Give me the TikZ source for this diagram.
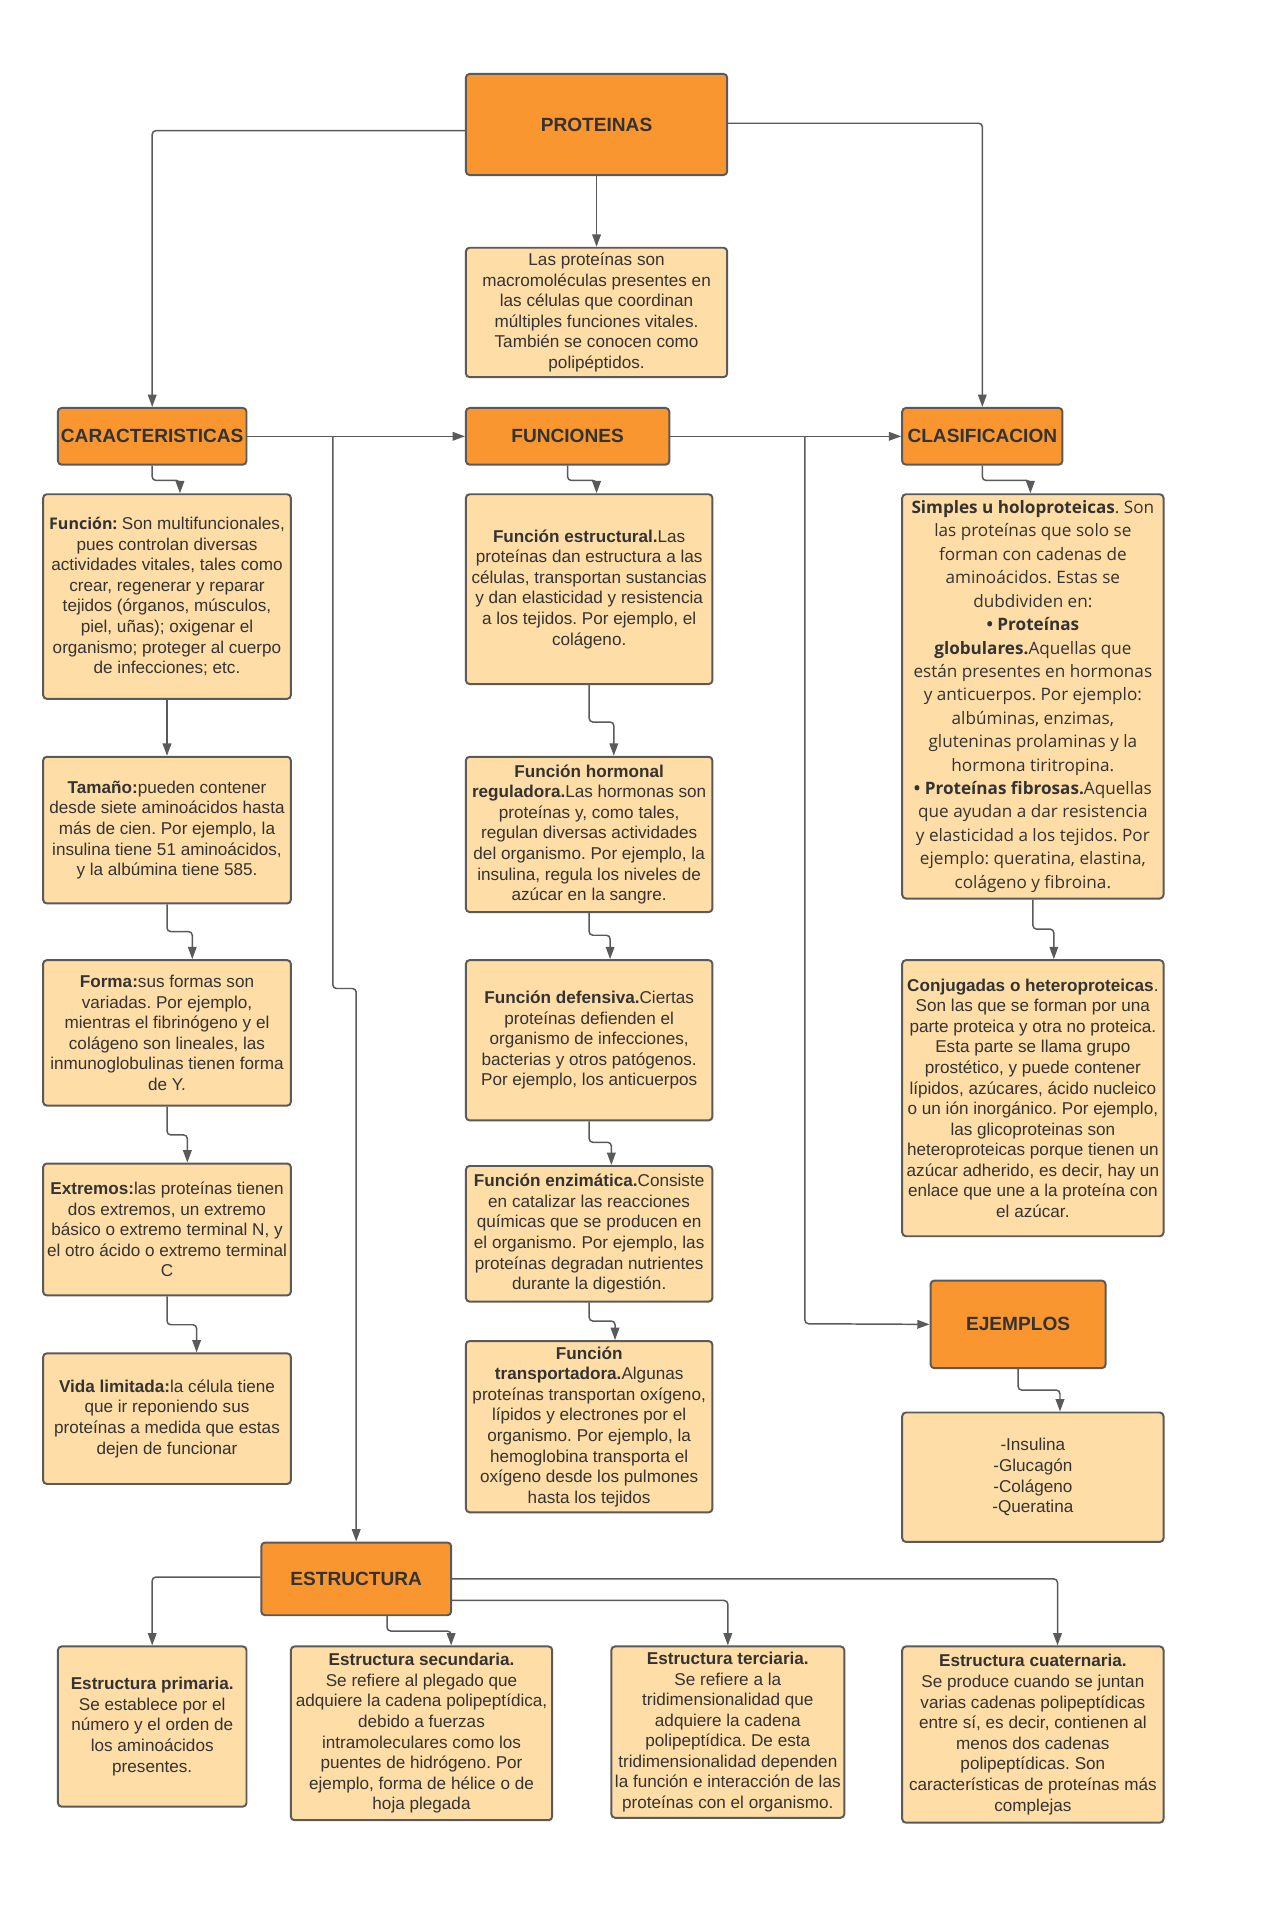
\documentclass[tikz,border=0pt]{standalone}
\usepackage{fontspec}
\setmainfont{Liberation Sans}
\newfontfamily\opensans{Open Sans}
\usetikzlibrary{positioning,arrows.meta}
\definecolor{headorange}{HTML}{F9962F}
\definecolor{boxpeach}{HTML}{FFDDA6}
\definecolor{edgegray}{HTML}{5A5A5A}
\definecolor{textdark}{HTML}{333333}
\tikzset{
  head box/.style={
    fill=headorange,
    draw=edgegray,
    line width=1.6pt,
    rounded corners=3pt,
    minimum width={#1},
    inner sep=1pt,
    text=textdark,
    font=\bfseries\fontsize{15.5}{18}\selectfont,
  },
  info box/.style={
    fill=boxpeach,
    draw=edgegray,
    line width=1.6pt,
    rounded corners=3pt,
    minimum width={#1},
    inner sep=2pt,
    align=center,
    text=textdark,
    font=\fontsize{13.9}{16.7}\selectfont,
  },
  link/.style={
    draw=edgegray,
    line width=1.2pt,
    rounded corners=3pt,
    -{Triangle[length=10pt,width=7pt]},
  }
}

\begin{document}
\frenchspacing
\begin{tikzpicture}[x=1pt,y=-1pt]
        \fill[white] (0,0) rectangle (1038.5,1567.5);
        \useasboundingbox (0,0) rectangle (1038.5,1567.5);

        % top of the map
        \node [head box=212pt, minimum height=82pt] (prot) at (484,101) {PROTEINAS};
        \node [info box=212pt, minimum height=105pt] (desc) at (484,253.5)
          {Las proteínas son\\macromoléculas presentes en\\las células que coordinan\\múltiples funciones vitales.\\También se conocen como\\polipéptidos.};

        \node [head box=153pt, minimum height=46pt] (car) at (123.5,354) {CARACTERISTICAS};
        \node [head box=165pt, minimum height=46pt] (fun) at (460.5,354) {FUNCIONES};
        \node [head box=130pt, minimum height=46pt] (clas) at (797,354) {CLASIFICACION};

        % caracteristicas
        \node [info box=201pt, minimum height=166pt] (fn) at (135.5,484)
          {{\opensans\bfseries\fontsize{13}{16.7}\selectfont Función:} Son multifuncionales,\\pues controlan diversas\\actividades vitales, tales como\\crear, regenerar y reparar\\tejidos (órganos, músculos,\\piel, uñas); oxigenar el\\organismo; proteger al cuerpo\\de infecciones; etc.};
        \node [info box=201pt, minimum height=119pt, below=45.4pt of fn] (tam)
          {\textbf{Tamaño:}pueden contener\\desde siete aminoácidos hasta\\más de cien. Por ejemplo, la\\insulina tiene 51 aminoácidos,\\y la albúmina tiene 585.};
        \node [info box=201pt, minimum height=118pt, below=44.4pt of tam] (forma)
          {\textbf{Forma:}sus formas son\\variadas. Por ejemplo,\\mientras el fibrinógeno y el\\colágeno son lineales, las\\inmunoglobulinas tienen forma\\de Y.};
        \node [info box=201pt, minimum height=107pt, below=45.4pt of forma] (ext)
          {\textbf{Extremos:}las proteínas tienen\\dos extremos, un extremo\\básico o extremo terminal N, y\\el otro ácido o extremo terminal\\C};
        \node [info box=201pt, minimum height=106pt, below=45.4pt of ext] (vida)
          {\textbf{Vida limitada:}la célula tiene\\que ir reponiendo sus\\proteínas a medida que estas\\dejen de funcionar};

        % funciones
        \node [info box=200pt, minimum height=154pt] (est) at (478,478)
          {\textbf{Función estructural.}Las\\proteínas dan estructura a las\\células, transportan sustancias\\y dan elasticidad y resistencia\\a los tejidos. Por ejemplo, el\\colágeno.};
        \node [info box=200pt, minimum height=126pt, below=57.4pt of est] (hor)
          {\textbf{Función hormonal}\\\textbf{reguladora.}Las hormonas son\\proteínas y, como tales,\\regulan diversas actividades\\del organismo. Por ejemplo, la\\insulina, regula los niveles de\\azúcar en la sangre.};
        \node [info box=200pt, minimum height=130pt, below=37.4pt of hor] (def)
          {\textbf{Función defensiva.}Ciertas\\proteínas defienden el\\organismo de infecciones,\\bacterias y otros patógenos.\\Por ejemplo, los anticuerpos};
        \node [info box=200pt, minimum height=110pt, below=35.4pt of def] (enz)
          {\textbf{Función enzimática.}Consiste\\en catalizar las reacciones\\químicas que se producen en\\el organismo. Por ejemplo, las\\proteínas degradan nutrientes\\durante la digestión.};
        \node [info box=200pt, minimum height=139pt, below=30.4pt of enz] (tra)
          {\textbf{Función}\\\textbf{transportadora.}Algunas\\proteínas transportan oxígeno,\\lípidos y electrones por el\\organismo. Por ejemplo, la\\hemoglobina transporta el\\oxígeno desde los pulmones\\hasta los tejidos};

        % clasificacion
        \node [info box=212pt, minimum height=328pt, font=\opensans\fontsize{13.9}{19}\selectfont] (sim) at (838,565)
          {\textbf{Simples u holoproteicas}. Son\\las proteínas que solo se\\forman con cadenas de\\aminoácidos. Estas se\\dubdividen en:\\\textbf{• Proteínas}\\\textbf{globulares.}Aquellas que\\están presentes en hormonas\\y anticuerpos. Por ejemplo:\\albúminas, enzimas,\\gluteninas prolaminas y la\\hormona tiritropina.\\\textbf{• Proteínas fibrosas.}Aquellas\\que ayudan a dar resistencia\\y elasticidad a los tejidos. Por\\ejemplo: queratina, elastina,\\colágeno y fibroina.};
        \node [info box=212pt, minimum height=224pt, below=48.4pt of sim] (conj)
          {\textbf{Conjugadas o heteroproteicas}.\\Son las que se forman por una\\parte proteica y otra no proteica.\\Esta parte se llama grupo\\prostético, y puede contener\\lípidos, azúcares, ácido nucleico\\o un ión inorgánico. Por ejemplo,\\las glicoproteinas son\\heteroproteicas porque tienen un\\azúcar adherido, es decir, hay un\\enlace que une a la proteína con\\el azúcar.};
        \node [head box=142pt, minimum height=71pt] (ejem) at (826,1074.5) {EJEMPLOS};
        \node [info box=212pt, minimum height=105pt] (lista) at (838,1198.5)
          {-Insulina\\-Glucagón\\-Colágeno\\-Queratina};

        % estructura
        \node [head box=154pt, minimum height=59pt] (estr) at (289,1281) {ESTRUCTURA};
        \node [info box=153pt, minimum height=130pt, anchor=north] (prim) at (123.5,1335)
          {\textbf{Estructura primaria.}\\Se establece por el\\número y el orden de\\los aminoácidos\\presentes.};
        \node [info box=212pt, minimum height=141pt, anchor=north] (sec) at (342,1335)
          {\textbf{Estructura secundaria.}\\Se refiere al plegado que\\adquiere la cadena polipeptídica,\\debido a fuerzas\\intramoleculares como los\\puentes de hidrógeno. Por\\ejemplo, forma de hélice o de\\hoja plegada};
        \node [info box=189pt, minimum height=139pt, anchor=north] (ter) at (590.5,1335)
          {\textbf{Estructura terciaria.}\\Se refiere a la\\tridimensionalidad que\\adquiere la cadena\\polipeptídica. De esta\\tridimensionalidad dependen\\la función e interacción de las\\proteínas con el organismo.};
        \node [info box=212pt, minimum height=143pt, anchor=north] (cua) at (838,1335)
          {\textbf{Estructura cuaternaria.}\\Se produce cuando se juntan\\varias cadenas polipeptídicas\\entre sí, es decir, contienen al\\menos dos cadenas\\polipeptídicas. Son\\características de proteínas más\\complejas};

        % branch points
        \coordinate (split1) at (270,354);
        \coordinate (bend1) at (270,802);
        \coordinate (split2) at (653,354);
        \coordinate (bend2) at (653,1074);

        % connectors
        \draw [link] ([yshift=-5pt]prot.west) -| (car.north);
        \draw [link] ([yshift=1pt]prot.east) -| (clas.north);
        \draw [link] (prot.south) -- (desc.north);
        \draw [link] (car.east) -- (fun.west);
        \draw [link] (fun.east) -- (clas.west);
        \draw [link] (split1) -- (bend1) -| (estr.north);
        \draw [link] (split2) -- (bend2) -- (ejem.west);

        \draw [link] (car.south) -- ++(0,12) -| ([xshift=10.5pt]fn.north);
        \draw [link] (fn.south) -- (tam.north);
        \draw [link] (tam.south) -- ++(0,22) -| ([xshift=20.5pt]forma.north);
        \draw [link] (forma.south) -- ++(0,23) -| ([xshift=16.5pt]ext.north);
        \draw [link] (ext.south) -- ++(0,23) -| ([xshift=24pt]vida.north);

        \draw [link] (fun.south) -- ++(0,12) -| ([xshift=6pt]est.north);
        \draw [link] (est.south) -- ++(0,30) -| ([xshift=20pt]hor.north);
        \draw [link] (hor.south) -- ++(0,18) -| ([xshift=17pt]def.north);
        \draw [link] (def.south) -- ++(0,17) -| ([xshift=18pt]enz.north);
        \draw [link] (enz.south) -- ++(0,15) -| ([xshift=21pt]tra.north);

        \draw [link] (clas.south) -- ++(0,12) -| ([xshift=-2pt]sim.north);
        \draw [link] (sim.south) -- ++(0,24) -| ([xshift=17pt]conj.north);
        \draw [link] (ejem.south) -- ++(0,17) -| ([xshift=22pt]lista.north);

        \draw [link] ([yshift=1.5pt]estr.west) -| (prim.north);
        \draw [link] ([xshift=25pt]estr.south) -- ++(0,12) -| ([xshift=24pt]sec.north);
        \draw [link] ([yshift=-17.5pt]estr.east) -| (ter.north);
        \draw [link] (estr.east) -| ([xshift=20pt]cua.north);
      \end{tikzpicture}
\end{document}
